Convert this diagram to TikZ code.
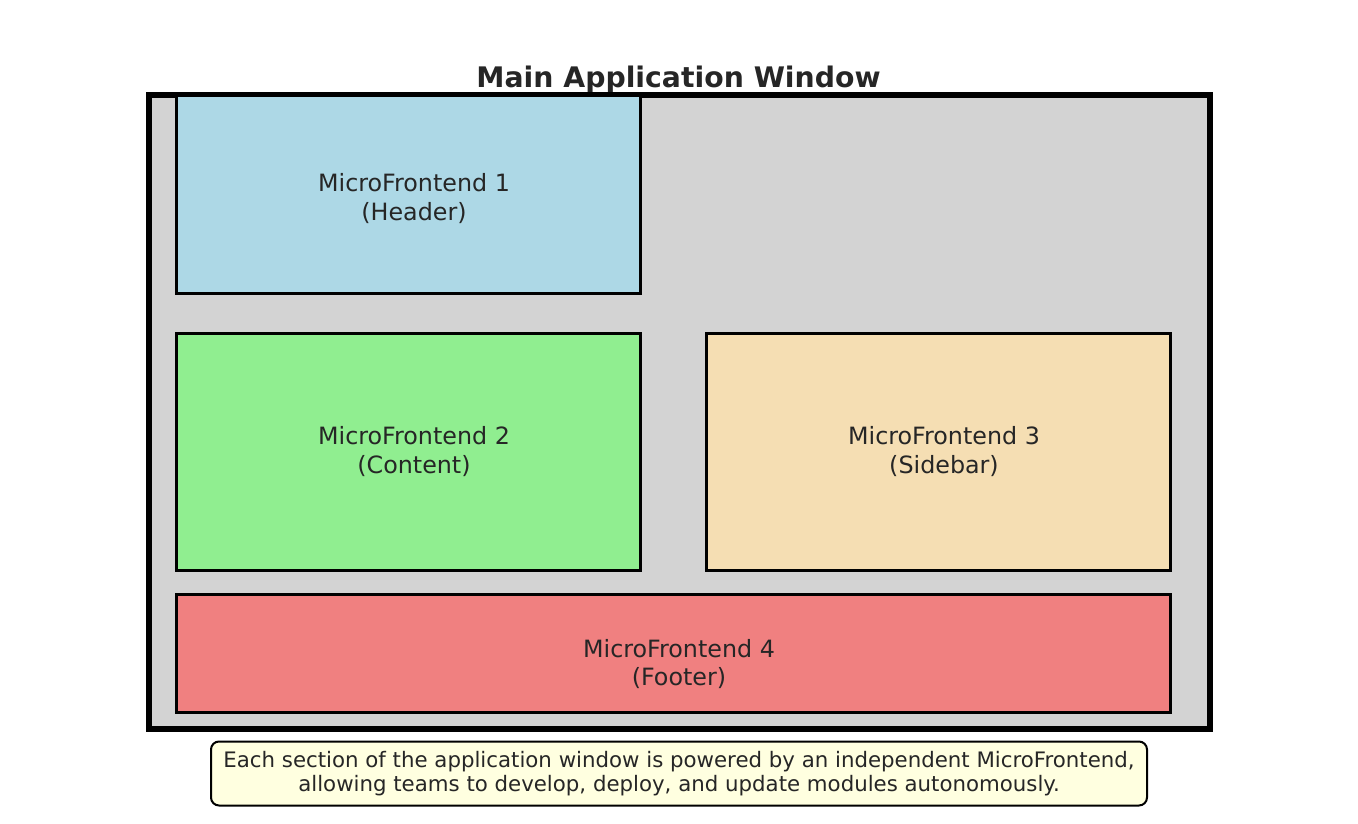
\documentclass[tikz,border=0pt]{standalone}
\usepackage{fontspec}
\setmainfont{DejaVu Sans}
\definecolor{txt}{HTML}{262626}
\definecolor{winbg}{HTML}{D3D3D3}
\definecolor{mfblue}{HTML}{ADD8E6}
\definecolor{mfgreen}{HTML}{90EE90}
\definecolor{mfwheat}{HTML}{F5DEB3}
\definecolor{mfcoral}{HTML}{F08080}
\definecolor{noteyellow}{HTML}{FFFFE0}
\begin{document}
\begin{tikzpicture}[x=1pt,y=-1pt,
  mfbox/.style={draw=black,line width=3pt,inner sep=0pt},
  mftext/.style={align=center,text=txt,inner sep=0pt,font=\fontsize{23.8}{28.4}\selectfont},
  winbox/.style={draw=black,fill=winbg,line width=4pt,inner sep=0pt},
  notebox/.style={draw=black,fill=noteyellow,line width=2pt,rounded corners=8pt,inner sep=0pt,
    align=center,text=txt,font=\fontsize{21.3}{24.5}\selectfont},
  titlestyle/.style={text=txt,font=\fontsize{28.3}{32}\selectfont\bfseries,inner sep=0pt}]
\useasboundingbox (0,0) rectangle (1358,824);
\fill[white] (0,0) rectangle (1358,824);
\node[winbox,minimum width=1059pt,minimum height=632pt] (win) at (679.5,412) {};
\node[titlestyle] (title) at (678.5,80) {Main Application Window};
\node[mfbox,fill=mfblue,minimum width=464pt,minimum height=197pt] (mf1) at (408,194.5) {};
\node[mfbox,fill=mfgreen,minimum width=464pt,minimum height=237pt] (mf2) at (408,451.5) {};
\node[mfbox,fill=mfwheat,minimum width=464pt,minimum height=237pt] (mf3) at (938,451.5) {};
\node[mfbox,fill=mfcoral,minimum width=994pt,minimum height=118pt] (mf4) at (673,653) {};
\node[mftext] (t1) at (414,198.5) {MicroFrontend 1\\(Header)};
\node[mftext] (t2) at (414,451.5) {MicroFrontend 2\\(Content)};
\node[mftext] (t3) at (944,451.5) {MicroFrontend 3\\(Sidebar)};
\node[mftext] (t4) at (679,664) {MicroFrontend 4\\(Footer)};
\draw[line width=4pt] (win.north west) rectangle (win.south east);
\node[notebox,minimum width=936pt,minimum height=64pt] (note) at (679,773.5) {Each section of the application window is powered by an independent MicroFrontend,\\allowing teams to develop, deploy, and update modules autonomously.};
\end{tikzpicture}
\end{document}
